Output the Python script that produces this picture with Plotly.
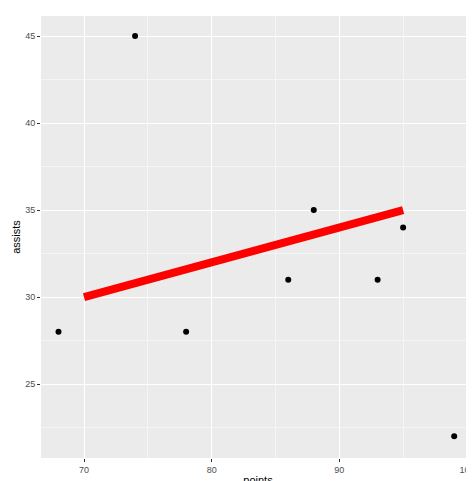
import plotly.graph_objects as go

points = [68, 74, 78, 86, 88, 93, 95, 99]
assists = [28, 45, 28, 31, 35, 31, 34, 22]
seg_x = [70, 95]
seg_y = [30, 35]

fig = go.Figure()
fig.add_trace(go.Scatter(x=seg_x, y=seg_y, mode="lines",
                         line=dict(color="red", width=8), showlegend=False))
fig.add_trace(go.Scatter(x=points, y=assists, mode="markers",
                         marker=dict(color="black", size=6), showlegend=False))
grid = dict(showgrid=True, gridcolor="white", gridwidth=1.2, zeroline=False,
            ticks="outside", ticklen=3, tickcolor="#333333", automargin=False,
            tickfont=dict(size=9, color="#4d4d4d", family="Liberation Sans"))
fig.update_layout(
    width=474, height=481, margin=dict(l=33, r=7, t=8, b=31),
    paper_bgcolor="white", plot_bgcolor="#ebebeb",
    font=dict(family="Liberation Sans", color="black"),
    xaxis=dict(range=[66.63, 100.63], tickvals=[70, 80, 90, 100],
               minor=dict(tickvals=[65, 75, 85, 95], showgrid=True, gridcolor="#f5f5f5", gridwidth=0.6, ticks=""),
               title=dict(text="points", font=dict(size=11), standoff=2), **grid),
    yaxis=dict(range=[20.75, 46.15], tickvals=[25, 30, 35, 40, 45],
               minor=dict(tickvals=[22.5, 27.5, 32.5, 37.5, 42.5], showgrid=True, gridcolor="#f5f5f5", gridwidth=0.6, ticks=""),
               title=dict(text="assists", font=dict(size=11), standoff=2), **grid),
)
fig.write_html("out.html")
